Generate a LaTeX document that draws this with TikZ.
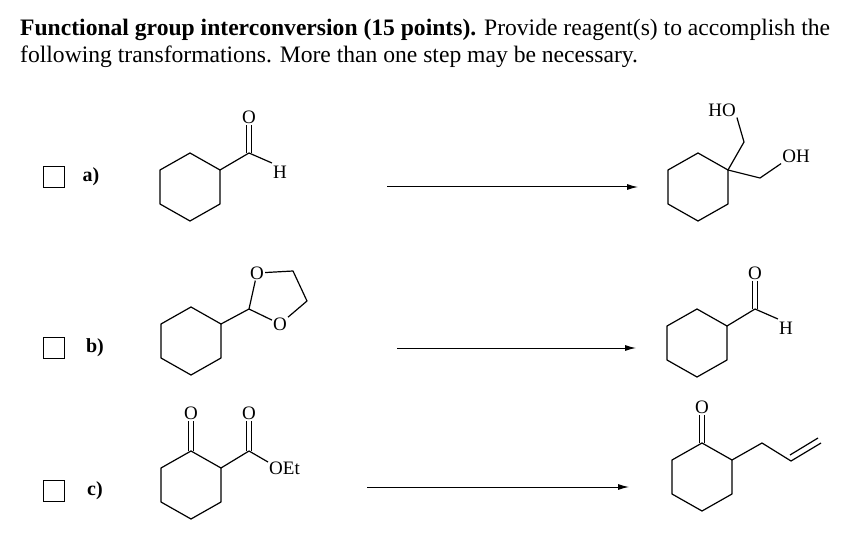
\documentclass[tikz,border=0pt]{standalone}
\usepackage{fontspec}
\setmainfont{Liberation Serif}
\begin{document}
\begin{tikzpicture}[x=1pt,y=-1pt,
  bond/.style={line width=1.2pt,line join=round},
  atom/.style={font=\fontsize{19}{19}\selectfont,inner sep=1pt},
  hdr/.style={font=\fontsize{23.6}{28}\selectfont,anchor=base west,inner sep=0},
  lbl/.style={font=\bfseries\fontsize{20}{20}\selectfont},
  cbox/.style={draw,line width=1pt,minimum size=21pt,inner sep=0},
  rxn/.style={line width=1pt,-{Latex[length=11pt,width=6pt]}}]
\usetikzlibrary{arrows.meta}
\useasboundingbox (0,0) rectangle (848,537);
\node[hdr] (h1) at (20,36) {\textbf{Functional group interconversion (15 points).} Provide reagent(s) to accomplish the};
\node[hdr] (h2) at (20,63) {following transformations. More than one step may be necessary.};
% checkboxes and labels
\node[cbox] (ba) at (54,177) {}; \node[lbl] (la) at (91,177) {a)};
\node[cbox] (bb) at (54,348) {}; \node[lbl] (lb) at (95,348) {b)};
\node[cbox] (bc) at (54,491) {}; \node[lbl] (lc) at (95,491) {c)};
% arrows
\coordinate (a1) at (387,187); \coordinate (a2) at (638,187);
\coordinate (b1) at (397,348); \coordinate (b2) at (636,348);
\coordinate (c1) at (367,487); \coordinate (c2) at (629,487);
\draw[rxn] (a1)--(a2); \draw[rxn] (b1)--(b2); \draw[rxn] (c1)--(c2);
% ring macro
\newcommand\ring[2]{\draw[bond] (#1,#2-34)--(#1+30,#2-17)--(#1+30,#2+17)--(#1,#2+34)--(#1-30,#2+17)--(#1-30,#2-17)--cycle;}
% a left
\ring{190}{187}
\node[atom] (aO) at (249,117) {O};
\node[atom] (aH) at (280,172) {H};
\draw[bond] (220,170)--(249,153);
\draw[bond] (246.5,153)--(aO.south -| 246.5,0); \draw[bond] (251.5,153)--(aO.south -| 251.5,0);
\draw[bond] (249,153)--(aH.west |- 0,163);
% a right
\ring{698}{187}
\node[atom] (HO) at (722,110) {HO};
\node[atom] (OH) at (796,156) {OH};
\draw[bond] (728,170)--(744,142)--(HO.south east);
\draw[bond] (728,170)--(760,178)--(OH.south west);
% b left
\ring{191}{341}
\node[atom] (bO1) at (257,273) {O};
\node[atom] (bO2) at (280,324) {O};
\draw[bond] (221,324)--(249,309)--(bO1);
\draw[bond] (249,309)--(bO2);
\draw[bond] (bO1)--(293,271)--(307,301)--(bO2);
% b right
\ring{697}{343}
\node[atom] (bO) at (755,273) {O};
\node[atom] (bH) at (786,328) {H};
\draw[bond] (727,326)--(755,309);
\draw[bond] (752.5,309)--(bO.south -| 752.5,0); \draw[bond] (757.5,309)--(bO.south -| 757.5,0);
\draw[bond] (755,309)--(bH.west |- 0,319);
% c left
\ring{191}{485}
\node[atom] (cO1) at (191,413) {O};
\node[atom] (cO2) at (249,413) {O};
\node[atom,anchor=west] (cOEt) at (268,468) {OEt};
\draw[bond] (188.5,451)--(cO1.south -| 188.5,0); \draw[bond] (193.5,451)--(cO1.south -| 193.5,0);
\draw[bond] (221,468)--(249,451);
\draw[bond] (246.5,451)--(cO2.south -| 246.5,0); \draw[bond] (251.5,451)--(cO2.south -| 251.5,0);
\draw[bond] (249,451)--(cOEt.west |- 0,462);
% c right
\ring{702}{477}
\node[atom] (rO) at (702,407) {O};
\draw[bond] (699.5,443)--(rO.south -| 699.5,0); \draw[bond] (704.5,443)--(rO.south -| 704.5,0);
\draw[bond] (732,460)--(762,443)--(791,461)--(821,443);
\draw[bond] (790,455)--(818,438);
\end{tikzpicture}
\end{document}
